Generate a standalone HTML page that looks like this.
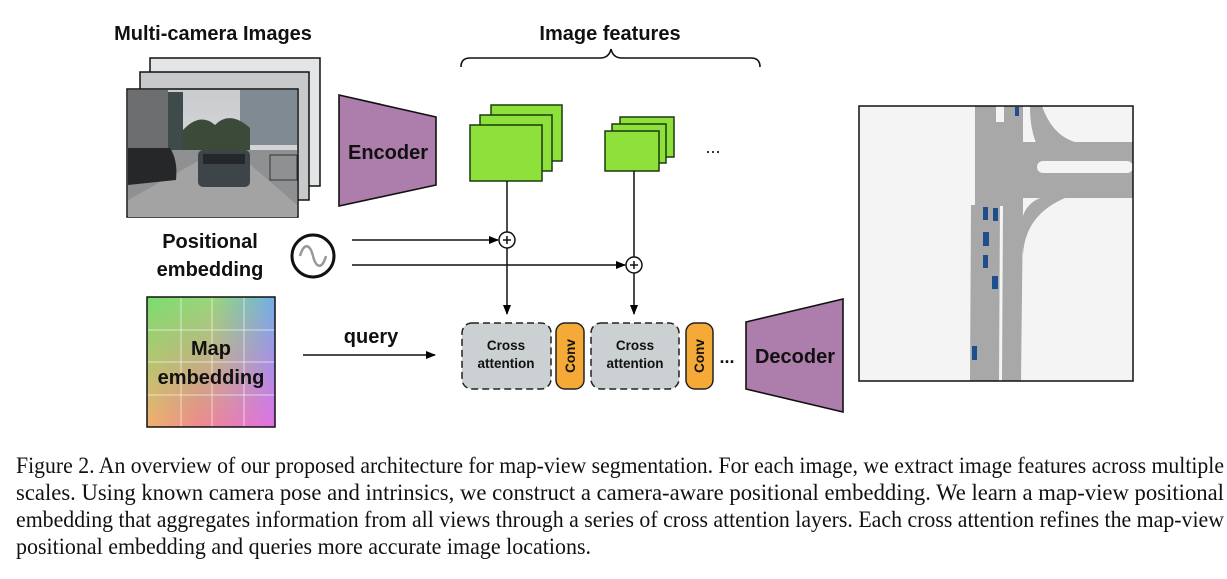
<!DOCTYPE html>
<html><head><meta charset="utf-8"><style>
html,body{margin:0;padding:0;background:#fff;}
svg{display:block;}
.b{font-family:"Liberation Sans",sans-serif;font-weight:bold;fill:#111;}
.c{font-family:"Liberation Serif",serif;fill:#111;font-size:23px;}
</style></head><body>
<svg width="1227" height="579" viewBox="0 0 1227 579" xmlns="http://www.w3.org/2000/svg">
<defs>
<marker id="ar" markerWidth="10" markerHeight="8" refX="9" refY="4" orient="auto" markerUnits="userSpaceOnUse"><path d="M0,0 L10,4 L0,8 z" fill="#000"/></marker>
<linearGradient id="sky" x1="0" y1="0" x2="0" y2="1"><stop offset="0" stop-color="#c9cbce"/><stop offset="1" stop-color="#dfe0e2"/></linearGradient>
<linearGradient id="mg1" x1="0" y1="0" x2="1" y2="0"><stop offset="0" stop-color="#78dd70"/><stop offset="0.5" stop-color="#9ad87a"/><stop offset="1" stop-color="#6fb0e6"/></linearGradient>
<linearGradient id="mg2" x1="0" y1="0" x2="1" y2="0"><stop offset="0" stop-color="#f2b070"/><stop offset="0.4" stop-color="#ee8a8a"/><stop offset="1" stop-color="#e070e6"/></linearGradient>
<linearGradient id="mv" x1="0" y1="0" x2="0" y2="1"><stop offset="0" stop-color="#fff" stop-opacity="0"/><stop offset="1" stop-color="#fff" stop-opacity="1"/></linearGradient>
<mask id="mm"><rect x="147" y="297" width="128" height="130" fill="url(#mv)"/></mask>
</defs>

<text x="213" y="40" class="b" font-size="20" text-anchor="middle">Multi-camera Images</text>
<text x="610" y="40" class="b" font-size="20" text-anchor="middle">Image features</text>
<path d="M461,67 Q461,58 470,58 L600,58 Q609,58 611,49 Q613,58 622,58 L751,58 Q760,58 760,67" fill="none" stroke="#111" stroke-width="1.6"/>

<rect x="150" y="58" width="170" height="128" fill="#e4e5e6" stroke="#111" stroke-width="1.5"/>
<rect x="140" y="72" width="169" height="128" fill="#c8c9cb" stroke="#111" stroke-width="1.5"/>
<rect x="127" y="89" width="171" height="128" fill="url(#sky)" stroke="#111" stroke-width="1.5"/>
<rect x="128" y="90" width="40" height="60" fill="#6d6e70"/>
<rect x="168" y="92" width="15" height="60" fill="#3f4a4a"/>
<rect x="240" y="90" width="57" height="55" fill="#7f8a92"/>
<path d="M183,130 Q200,112 215,125 Q230,110 250,128 L250,150 L183,150z" fill="#3c4a3a"/>
<path d="M128,150 L297,150 L297,217 L128,217z" fill="#8f9092"/>
<path d="M200,160 L245,160 L297,205 L297,217 L128,217 L128,200z" fill="#a3a3a4"/>
<path d="M128,148 L170,148 Q178,160 176,180 L128,185z" fill="#262729"/>
<rect x="198" y="150" width="52" height="37" rx="5" fill="#3e4548"/>
<rect x="203" y="154" width="42" height="10" fill="#24282a"/>
<rect x="270" y="155" width="27" height="25" fill="none" stroke="#333" stroke-width="1"/>

<path d="M339,95 L436,117 L436,185 L339,206 z" fill="#ad7eab" stroke="#111" stroke-width="1.6"/>
<text x="388" y="159" class="b" font-size="20" text-anchor="middle">Encoder</text>

<g fill="#8ee03a" stroke="#1c3a10" stroke-width="1.5">
<rect x="491" y="105" width="71" height="56"/>
<rect x="480" y="115" width="72" height="56"/>
<rect x="470" y="125" width="72" height="56"/>
<rect x="620" y="117" width="54" height="40"/>
<rect x="612" y="124" width="54" height="39"/>
<rect x="605" y="131" width="54" height="40"/>
</g>
<text x="713" y="153" font-family="Liberation Sans,sans-serif" font-size="18" text-anchor="middle" fill="#111">...</text>

<g stroke="#111" stroke-width="1.5" fill="none">
<line x1="507" y1="181" x2="507" y2="232"/>
<line x1="507" y1="248" x2="507" y2="314" marker-end="url(#ar)"/>
<line x1="634" y1="171" x2="634" y2="257"/>
<line x1="634" y1="273" x2="634" y2="314" marker-end="url(#ar)"/>
<line x1="352" y1="240" x2="498" y2="240" marker-end="url(#ar)"/>
<line x1="352" y1="265" x2="625" y2="265" marker-end="url(#ar)"/>
<line x1="303" y1="355" x2="435" y2="355" marker-end="url(#ar)"/>
<circle cx="507" cy="240" r="8" fill="#fff"/>
<circle cx="634" cy="265" r="8" fill="#fff"/>
<path d="M503,240 H511 M507,236 V244 M630,265 H638 M634,261 V269"/>
</g>

<text x="210" y="248" class="b" font-size="20" text-anchor="middle">Positional</text>
<text x="210" y="276" class="b" font-size="20" text-anchor="middle">embedding</text>
<circle cx="313" cy="256" r="21" fill="#fff" stroke="#111" stroke-width="3"/>
<path d="M300,256 C304,242 310,244 313,256 C316,268 322,270 326,256" fill="none" stroke="#999" stroke-width="2.5"/>

<rect x="147" y="297" width="128" height="130" fill="url(#mg1)"/>
<rect x="147" y="297" width="128" height="130" fill="url(#mg2)" mask="url(#mm)"/>
<g stroke="#fff" stroke-opacity="0.6" stroke-width="1">
<line x1="181" y1="297" x2="181" y2="427"/><line x1="212" y1="297" x2="212" y2="427"/><line x1="244" y1="297" x2="244" y2="427"/>
<line x1="147" y1="330" x2="275" y2="330"/><line x1="147" y1="362" x2="275" y2="362"/><line x1="147" y1="395" x2="275" y2="395"/>
</g>
<rect x="147" y="297" width="128" height="130" fill="none" stroke="#111" stroke-width="1.5"/>
<text x="211" y="355" class="b" font-size="20" text-anchor="middle">Map</text>
<text x="211" y="384" class="b" font-size="20" text-anchor="middle">embedding</text>
<text x="371" y="343" class="b" font-size="20" text-anchor="middle">query</text>

<g stroke="#222" stroke-width="1.5" stroke-dasharray="7,4" fill="#cbd0d3">
<rect x="462" y="323" width="89" height="66" rx="10"/>
<rect x="591" y="323" width="88" height="66" rx="10"/>
</g>
<g fill="#f5a937" stroke="#222" stroke-width="1.5">
<rect x="556" y="323" width="28" height="66" rx="9"/>
<rect x="686" y="323" width="27" height="66" rx="9"/>
</g>
<g class="b" font-size="13.5" text-anchor="middle">
<text x="506" y="350">Cross</text><text x="506" y="368">attention</text>
<text x="635" y="350">Cross</text><text x="635" y="368">attention</text>
<text transform="translate(575,356) rotate(-90)">Conv</text>
<text transform="translate(704,356) rotate(-90)">Conv</text>
</g>
<text x="727" y="363" font-family="Liberation Sans,sans-serif" font-size="18" font-weight="bold" text-anchor="middle" fill="#111">...</text>

<path d="M746,322 L843,299 L843,412 L746,389 z" fill="#ad7eab" stroke="#111" stroke-width="1.6"/>
<text x="795" y="363" class="b" font-size="20" text-anchor="middle">Decoder</text>

<rect x="859" y="106" width="274" height="275" fill="#f4f4f4"/>
<g fill="#a8a8a8">
<rect x="975" y="106" width="48" height="100"/>
<path d="M971,205 L1000,205 L999,381 L970,381z"/>
<path d="M1003,205 L1023,205 L1021,381 L1002,381z"/>
<rect x="1023" y="142" width="110" height="56"/>
<path d="M1030,106 L1042,106 Q1052,135 1075,142 L1040,150 Q1030,135 1030,106z"/>
<path d="M1023,255 Q1025,215 1065,198 L1040,198 Q1023,205 1021,225z"/>
</g>
<rect x="1037" y="161" width="96" height="12" rx="6" fill="#f4f4f4"/>
<rect x="996" y="106" width="8" height="16" fill="#f4f4f4"/>
<g fill="#1f4e8c">
<rect x="1015" y="107" width="4" height="9"/>
<rect x="983" y="207" width="5" height="13"/><rect x="993" y="208" width="5" height="13"/>
<rect x="983" y="232" width="6" height="14"/><rect x="983" y="255" width="5" height="13"/>
<rect x="992" y="276" width="6" height="13"/><rect x="972" y="346" width="5" height="14"/>
</g>
<rect x="859" y="106" width="274" height="275" fill="none" stroke="#111" stroke-width="1.5"/>

<text x="16" y="473" class="c" textLength="1208" lengthAdjust="spacingAndGlyphs">Figure 2. An overview of our proposed architecture for map-view segmentation. For each image, we extract image features across multiple</text>
<text x="16" y="500" class="c" textLength="1208" lengthAdjust="spacingAndGlyphs">scales.  Using known camera pose and intrinsics, we construct a camera-aware positional embedding.  We learn a map-view positional</text>
<text x="16" y="527" class="c" textLength="1208" lengthAdjust="spacingAndGlyphs">embedding that aggregates information from all views through a series of cross attention layers. Each cross attention refines the map-view</text>
<text x="16" y="554" class="c" textLength="575" lengthAdjust="spacingAndGlyphs">positional embedding and queries more accurate image locations.</text>
</svg>
</body></html>
